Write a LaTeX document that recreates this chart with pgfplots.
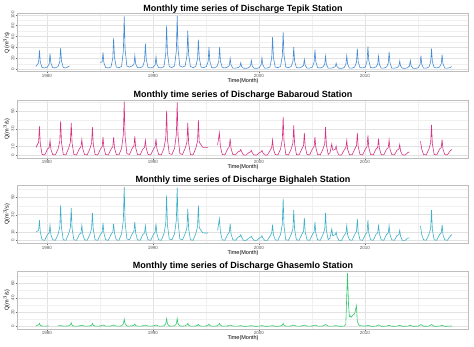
\documentclass[border=0pt]{standalone}
\usepackage{fontspec}
\setmainfont{Liberation Sans}
\usepackage{pgfplots}
\pgfplotsset{compat=1.18}
\definecolor{cTepik}{RGB}{70,140,210}
\definecolor{cBaba}{RGB}{214,51,132}
\definecolor{cBigh}{RGB}{60,176,200}
\definecolor{cGhas}{RGB}{50,200,110}
\definecolor{gridmaj}{RGB}{226,226,226}
\definecolor{gridmin}{RGB}{240,240,240}
\definecolor{framec}{RGB}{190,190,190}
\pgfplotsset{
 panel/.style={
  scale only axis, width=451.4pt, height=58pt, anchor=south west,
  xmin=1977.2, xmax=2019.8,
  xtick={1980,1990,2000,2010}, minor xtick={1985,1995,2005,2015},
  grid=both, major grid style={gridmaj, line width=0.5pt}, minor grid style={gridmin, line width=0.35pt},
  axis line style={framec, line width=0.5pt},
  tick pos=left, tick align=outside, major tick length=1.8pt, minor tick length=0pt,
  tick style={black!60, line width=0.4pt},
  /pgf/number format/assume math mode=true,
  /pgf/number format/1000 sep={},
  ticklabel style={font=\fontsize{4.5}{5}\selectfont, text=black!65},
  xticklabel style={inner sep=0.8pt},
  yticklabel style={rotate=90, anchor=south, inner sep=1pt},
  xlabel={Time(Month)}, ylabel={Q(m$^{3}$/s)},
  label style={font=\fontsize{5.5}{6}\selectfont},
  xlabel style={at={(axis description cs:0.5,0)}, anchor=north, yshift=-6.6pt, inner sep=0pt},
  ylabel style={at={(axis description cs:-0.016,0.5)}, anchor=south, inner sep=0pt},
  every axis title/.style={at={(axis description cs:0.5,1)}, anchor=base, yshift=2.3pt, inner sep=0pt, font=\bfseries\fontsize{9}{10}\selectfont},
  unbounded coords=jump,
  every axis plot/.append style={line width=0.6pt, no markers},
 }
}
\begin{document}
\begin{tikzpicture}
\useasboundingbox (0,0) rectangle (474pt,347pt);
% ---------------- Tepik ----------------
\begin{axis}[panel, at={(17.3pt,275.3pt)}, ymin=-4.5, ymax=102,
  ytick={0,20,40,60,80,100}, minor ytick={10,30,50,70,90},
  title={Monthly time series of Discharge Tepik Station}]
\addplot[cTepik] coordinates {
(1978.96,5) (1979.21,12) (1979.29,34.5) (1979.37,13) (1979.54,3) (1979.79,2.5)
(1980.04,4) (1980.21,10) (1980.29,28.5) (1980.37,11) (1980.54,3) (1980.79,2.5)
(1981.04,5) (1981.21,14) (1981.29,39) (1981.37,15) (1981.54,3) (1981.79,2.5)
(1982.04,5) (1982.12,6)
(1983,nan)
(1985.04,12) (1985.21,14) (1985.29,31) (1985.37,12) (1985.54,3) (1985.79,2.5)
(1986.04,4) (1986.21,20) (1986.29,57) (1986.37,22) (1986.54,4) (1986.79,3)
(1987.04,5) (1987.21,34) (1987.29,97) (1987.37,37) (1987.54,6) (1987.79,4)
(1988.04,6) (1988.21,9) (1988.29,25) (1988.37,10) (1988.54,3) (1988.79,3)
(1989.04,5) (1989.21,16) (1989.29,47) (1989.37,18) (1989.54,3) (1989.79,2.5)
(1990.04,4) (1990.21,8) (1990.29,23) (1990.37,9) (1990.54,3) (1990.79,2.5)
(1991.04,5) (1991.21,28) (1991.29,80) (1991.37,30) (1991.54,5) (1991.79,3)
(1992.04,6) (1992.21,34) (1992.29,98) (1992.37,37) (1992.54,6) (1992.79,4)
(1993.04,6) (1993.21,25) (1993.29,71) (1993.37,27) (1993.54,5) (1993.79,3)
(1994.04,5) (1994.21,19) (1994.29,54.5) (1994.37,21) (1994.54,4) (1994.79,3)
(1995.04,5) (1995.21,14) (1995.29,40.5) (1995.37,15) (1995.54,3) (1995.79,2.5)
(1996.04,5) (1996.21,14) (1996.29,40.5) (1996.37,15) (1996.54,3) (1996.79,2.5)
(1997.04,4) (1997.21,7) (1997.29,20) (1997.37,8) (1997.54,2) (1997.79,2)
(1998.04,3) (1998.21,5) (1998.29,12) (1998.37,5) (1998.54,2) (1998.79,1.5)
(1999.04,3) (1999.21,6) (1999.29,16) (1999.37,6) (1999.54,2) (1999.79,1.5)
(2000.04,3) (2000.21,8) (2000.29,21) (2000.37,8) (2000.54,2) (2000.79,2)
(2001.04,4) (2001.21,21) (2001.29,59) (2001.37,22) (2001.54,4) (2001.79,3)
(2002.04,5) (2002.21,24) (2002.29,68) (2002.37,26) (2002.54,4) (2002.79,3)
(2003.04,5) (2003.21,14) (2003.29,40.5) (2003.37,15) (2003.54,3) (2003.79,2.5)
(2004.04,4) (2004.21,7) (2004.29,18) (2004.37,7) (2004.54,2) (2004.79,2)
(2005.04,4) (2005.21,13) (2005.29,36) (2005.37,14) (2005.54,3) (2005.79,2.5)
(2006.04,4) (2006.21,9) (2006.29,24) (2006.37,9) (2006.54,2) (2006.79,2)
(2007.04,3) (2007.21,5) (2007.29,11) (2007.37,5) (2007.54,2) (2007.79,1.5)
(2008.04,3) (2008.21,9) (2008.29,25) (2008.37,10) (2008.54,2) (2008.79,2)
(2009.04,4) (2009.21,13) (2009.29,38) (2009.37,14) (2009.54,3) (2009.79,2.5)
(2010.04,4) (2010.21,15) (2010.29,42) (2010.37,16) (2010.54,3) (2010.79,2.5)
(2011.04,4) (2011.21,9) (2011.29,24) (2011.37,9) (2011.54,2) (2011.79,2)
(2012.04,4) (2012.21,11) (2012.29,32) (2012.37,12) (2012.54,2) (2012.79,2)
(2013.04,3) (2013.21,6) (2013.29,15) (2013.37,6) (2013.54,2) (2013.79,1.5)
(2014.04,3) (2014.21,6) (2014.29,16) (2014.37,6) (2014.54,2) (2014.79,1.5)
(2015.04,3) (2015.21,9) (2015.29,25) (2015.37,9) (2015.54,2) (2015.79,2)
(2016.04,4) (2016.21,13) (2016.29,38) (2016.37,14) (2016.54,3) (2016.79,2.5)
(2017.04,4) (2017.21,10) (2017.29,27) (2017.37,10) (2017.54,2) (2017.79,2)
(2018.04,3) (2018.2,5)
};
\end{axis}
% ---------------- Babaroud ----------------
\begin{axis}[panel, at={(17.3pt,189pt)}, ymin=-3, ymax=63,
  ytick={0,10,30,50}, minor ytick={20,40,60},
  title={Monthly time series of Discharge Babaroud Station}]
\addplot[cBaba] coordinates {
(1978.96,9) (1979.21,15) (1979.29,33) (1979.37,13) (1979.54,1) (1979.79,0.5)
(1980.04,7) (1980.21,9) (1980.29,17) (1980.37,7) (1980.54,1) (1980.79,0.5)
(1981.04,7) (1981.21,16) (1981.29,39) (1981.37,15) (1981.54,1) (1981.79,0.5)
(1982.04,8) (1982.21,15) (1982.29,37) (1982.37,14) (1982.54,1) (1982.79,0.5)
(1983.04,7) (1983.21,10) (1983.29,18) (1983.37,8) (1983.54,1) (1983.79,0.5)
(1984.04,7) (1984.21,14) (1984.29,32) (1984.37,13) (1984.54,1) (1984.79,0.5)
(1985.04,7) (1985.21,10) (1985.29,20.6) (1985.37,9) (1985.54,1) (1985.79,0.5)
(1986.04,7) (1986.21,10) (1986.29,20.6) (1986.37,9) (1986.54,1) (1986.79,0.5)
(1987.04,8) (1987.21,24) (1987.29,61) (1987.37,22) (1987.54,2) (1987.79,1)
(1988.04,8) (1988.21,11) (1988.29,21.7) (1988.37,9) (1988.54,1) (1988.79,0.5)
(1989.04,7) (1989.21,9) (1989.29,17) (1989.37,8) (1989.54,1) (1989.79,0.5)
(1990.04,7) (1990.21,10) (1990.29,19) (1990.37,8) (1990.54,1) (1990.79,0.5)
(1991.04,8) (1991.21,20) (1991.29,50.6) (1991.37,18) (1991.54,2) (1991.79,1)
(1992.04,8) (1992.21,24) (1992.29,60.3) (1992.37,22) (1992.54,2) (1992.79,1)
(1993.04,8) (1993.21,15) (1993.29,37) (1993.37,14) (1993.54,1) (1993.79,0.5)
(1994.04,8) (1994.21,16) (1994.29,40) (1994.37,15) (1994.54,12) (1994.71,9) (1994.96,9) (1995.2,9)
(1995.6,nan)
(1996.1,12) (1996.18,18) (1996.27,25.5) (1996.37,10) (1996.54,1) (1996.79,0.5)
(1997.04,7) (1997.21,10) (1997.29,19) (1997.37,8) (1997.54,1) (1997.79,0.5)
(1998.04,4) (1998.21,5) (1998.29,6.7) (1998.37,4) (1998.54,0.5) (1998.79,0.3)
(1999.04,3) (1999.21,4) (1999.29,5.6) (1999.37,3) (1999.54,0.5) (1999.79,0.3)
(2000.04,3) (2000.21,4) (2000.29,5.6) (2000.37,3) (2000.54,0.5) (2000.79,0.3)
(2001.04,5) (2001.21,9) (2001.29,17.6) (2001.37,7) (2001.54,1) (2001.79,0.5)
(2002.04,7) (2002.21,18) (2002.29,43.8) (2002.37,16) (2002.54,1) (2002.79,0.5)
(2003.04,7) (2003.21,14) (2003.29,34.1) (2003.37,13) (2003.54,1) (2003.79,0.5)
(2004.04,7) (2004.21,11) (2004.29,25.5) (2004.37,10) (2004.54,1) (2004.79,0.5)
(2005.04,7) (2005.21,10) (2005.29,21) (2005.37,9) (2005.54,1) (2005.79,0.5)
(2006.04,7) (2006.21,13) (2006.29,32) (2006.37,12) (2006.54,1) (2006.71,3) (2006.88,13) (2006.96,6)
(2007.04,6) (2007.21,7) (2007.29,10.5) (2007.37,5) (2007.54,0.5) (2007.79,0.3)
(2008.04,6) (2008.21,9) (2008.29,16.8) (2008.37,7) (2008.54,1) (2008.79,0.5)
(2009.04,7) (2009.21,11) (2009.29,25.5) (2009.37,10) (2009.54,1) (2009.79,0.5)
(2010.04,7) (2010.21,10) (2010.29,22.8) (2010.37,9) (2010.54,1) (2010.79,0.5)
(2011.04,7) (2011.21,9) (2011.29,19) (2011.37,8) (2011.54,1) (2011.79,0.5)
(2012.04,7) (2012.21,9) (2012.29,17.6) (2012.37,7) (2012.54,1) (2012.79,0.5)
(2013.04,6) (2013.21,7) (2013.29,12.4) (2013.37,5) (2013.54,0.5) (2013.79,0.3)
(2014.04,3) (2014.2,4)
(2014.7,nan)
(2015.25,16) (2015.37,7) (2015.54,1) (2015.79,0.5)
(2016.04,7) (2016.21,14) (2016.29,34.8) (2016.37,13) (2016.54,1) (2016.79,0.5)
(2017.04,7) (2017.21,9) (2017.29,18) (2017.37,7) (2017.54,1) (2017.79,0.5)
(2018.04,5) (2018.2,6.7)
};
\end{axis}
% ---------------- Bighaleh ----------------
\begin{axis}[panel, at={(17.3pt,103.7pt)}, ymin=-3, ymax=64,
  ytick={0,10,30,50}, minor ytick={20,40,60},
  title={Monthly time series of Discharge Bighaleh Station}]
\addplot[cBigh] coordinates {
(1978.96,10) (1979.21,12) (1979.29,23.6) (1979.37,10) (1979.54,1) (1979.79,0.5)
(1980.04,7) (1980.21,9) (1980.29,17.8) (1980.37,7) (1980.54,1) (1980.79,0.5)
(1981.04,7) (1981.21,16) (1981.29,41) (1981.37,15) (1981.54,1) (1981.79,0.5)
(1982.04,8) (1982.21,15) (1982.29,38) (1982.37,14) (1982.54,1) (1982.79,0.5)
(1983.04,7) (1983.21,9) (1983.29,17.8) (1983.37,8) (1983.54,1) (1983.79,0.5)
(1984.04,7) (1984.21,14) (1984.29,32.2) (1984.37,13) (1984.54,1) (1984.79,0.5)
(1985.04,7) (1985.21,10) (1985.29,20.5) (1985.37,9) (1985.54,1) (1985.79,0.5)
(1986.04,7) (1986.21,10) (1986.29,19.8) (1986.37,9) (1986.54,1) (1986.79,0.5)
(1987.04,8) (1987.21,24) (1987.29,62) (1987.37,22) (1987.54,2) (1987.79,1)
(1988.04,8) (1988.21,11) (1988.29,21.7) (1988.37,9) (1988.54,1) (1988.79,0.5)
(1989.04,7) (1989.21,9) (1989.29,17.4) (1989.37,8) (1989.54,1) (1989.79,0.5)
(1990.04,7) (1990.21,10) (1990.29,19.8) (1990.37,8) (1990.54,1) (1990.79,0.5)
(1991.04,8) (1991.21,20) (1991.29,52.3) (1991.37,18) (1991.54,2) (1991.79,1)
(1992.04,8) (1992.21,24) (1992.29,61.3) (1992.37,22) (1992.54,2) (1992.79,1)
(1993.04,8) (1993.21,15) (1993.29,36.8) (1993.37,14) (1993.54,1) (1993.79,0.5)
(1994.04,8) (1994.21,16) (1994.29,40.7) (1994.37,15) (1994.54,12) (1994.71,9) (1994.96,8.9) (1995.2,8.9)
(1995.6,nan)
(1996.1,12) (1996.18,18) (1996.27,25.2) (1996.37,10) (1996.54,1) (1996.79,0.5)
(1997.04,7) (1997.21,10) (1997.29,19.8) (1997.37,8) (1997.54,1) (1997.79,0.5)
(1998.04,4) (1998.21,5) (1998.29,7) (1998.37,4) (1998.54,0.5) (1998.79,0.3)
(1999.04,3) (1999.21,4) (1999.29,5) (1999.37,3) (1999.54,0.5) (1999.79,0.3)
(2000.04,3) (2000.21,4) (2000.29,5.8) (2000.37,3) (2000.54,0.5) (2000.79,0.3)
(2001.04,5) (2001.21,9) (2001.29,18.6) (2001.37,7) (2001.54,1) (2001.79,0.5)
(2002.04,7) (2002.21,19) (2002.29,48.5) (2002.37,17) (2002.54,1) (2002.79,0.5)
(2003.04,7) (2003.21,14) (2003.29,35.3) (2003.37,13) (2003.54,1) (2003.79,0.5)
(2004.04,7) (2004.21,11) (2004.29,26.4) (2004.37,10) (2004.54,1) (2004.79,0.5)
(2005.04,7) (2005.21,10) (2005.29,21.3) (2005.37,9) (2005.54,1) (2005.79,0.5)
(2006.04,7) (2006.21,13) (2006.29,32.2) (2006.37,12) (2006.54,1) (2006.71,3) (2006.88,13.6) (2006.96,6)
(2007.04,6) (2007.21,7) (2007.29,9.7) (2007.37,5) (2007.54,0.5) (2007.79,0.3)
(2008.04,6) (2008.21,9) (2008.29,17.4) (2008.37,7) (2008.54,1) (2008.79,0.5)
(2009.04,7) (2009.21,11) (2009.29,25.2) (2009.37,10) (2009.54,1) (2009.79,0.5)
(2010.04,7) (2010.21,10) (2010.29,23.6) (2010.37,9) (2010.54,1) (2010.79,0.5)
(2011.04,7) (2011.21,9) (2011.29,18.6) (2011.37,8) (2011.54,1) (2011.79,0.5)
(2012.04,7) (2012.21,9) (2012.29,17.4) (2012.37,7) (2012.54,1) (2012.79,0.5)
(2013.04,6) (2013.21,7) (2013.29,12) (2013.37,5) (2013.54,0.5) (2013.79,0.3)
(2014.04,3) (2014.2,3.1)
(2014.7,nan)
(2015.25,16.7) (2015.37,7) (2015.54,1) (2015.79,0.5)
(2016.04,7) (2016.21,14) (2016.29,35.3) (2016.37,13) (2016.54,1) (2016.79,0.5)
(2017.04,7) (2017.21,9) (2017.29,18.6) (2017.37,7) (2017.54,1) (2017.79,0.5)
(2018.04,5) (2018.2,7)
};
\end{axis}
% ---------------- Ghasemlo ----------------
\begin{axis}[panel, at={(17.3pt,18pt)}, ymin=-3.2, ymax=77,
  ytick={0,20,40,60}, minor ytick={10,30,50,70},
  title={Monthly time series of Discharge Ghasemlo Station}]
\addplot[cGhas] coordinates {
(1978.96,1.4) (1979.21,2.5) (1979.29,4.6) (1979.37,2) (1979.54,0.8) (1979.79,0.7) (1980.04,1) (1980.2,1.2)
(1980.6,nan)
(1981.0,1) (1981.29,1.5) (1981.54,0.8) (1981.79,0.8)
(1982.04,1.2) (1982.21,2.5) (1982.29,5.5) (1982.37,2) (1982.54,0.8) (1982.79,0.7)
(1983.04,1) (1983.29,2) (1983.54,0.7) (1983.79,0.7)
(1984.04,1) (1984.21,2) (1984.29,4.6) (1984.37,2) (1984.54,0.8) (1984.79,0.7)
(1985.04,1) (1985.29,2.3) (1985.54,0.8) (1985.79,0.7)
(1986.04,1) (1986.29,2.3) (1986.54,0.8) (1986.79,0.7)
(1987.04,1.2) (1987.21,4) (1987.29,10.4) (1987.37,4) (1987.54,1) (1987.79,0.8)
(1988.04,1.2) (1988.21,2) (1988.29,3.7) (1988.37,1.5) (1988.54,0.8) (1988.79,0.7)
(1989.04,1) (1989.29,2.3) (1989.54,0.8) (1989.79,0.7)
(1990.04,1) (1990.29,2.3) (1990.54,0.8) (1990.79,0.7)
(1991.04,1.2) (1991.21,4) (1991.29,11.3) (1991.37,4) (1991.54,1) (1991.79,0.8)
(1992.04,1.2) (1992.21,4) (1992.29,11.3) (1992.37,4) (1992.54,1) (1992.79,0.8)
(1993.04,1.2) (1993.21,2.5) (1993.29,4.6) (1993.37,2) (1993.54,0.8) (1993.79,0.7)
(1994.04,1) (1994.21,1.8) (1994.29,3) (1994.37,1.5) (1994.54,0.8) (1994.79,0.7)
(1995.04,1) (1995.21,2) (1995.29,3.5) (1995.37,1.5) (1995.54,0.8) (1995.79,0.7)
(1996.04,1) (1996.21,2.5) (1996.29,4.6) (1996.37,2) (1996.54,0.8) (1996.79,0.7)
(1997.04,1) (1997.29,2.3) (1997.54,0.8) (1997.79,0.7)
(1998.04,0.8) (1998.29,1.5) (1998.54,0.6) (1998.79,0.6)
(1999.04,0.8) (1999.29,1.5) (1999.54,0.6) (1999.79,0.6)
(2000.04,0.8) (2000.29,1.5) (2000.54,0.6) (2000.79,0.6)
(2001.04,0.8) (2001.29,1.5) (2001.54,0.6) (2001.79,0.6)
(2002.04,1) (2002.21,2) (2002.29,4.6) (2002.37,2) (2002.54,0.8) (2002.79,0.7)
(2003.04,1) (2003.29,2.3) (2003.54,0.8) (2003.79,0.7)
(2004.04,1) (2004.29,2.3) (2004.54,0.8) (2004.79,0.7)
(2005.04,1) (2005.29,2.3) (2005.54,0.8) (2005.79,0.7)
(2006.04,1) (2006.29,3) (2006.54,0.8) (2006.79,0.7)
(2007.04,0.8) (2007.29,1.5) (2007.54,0.6) (2007.79,0.6)
(2008.04,0.8) (2008.2,3) (2008.36,73.8) (2008.46,30) (2008.54,14) (2008.62,15) (2008.71,13) (2008.87,16) (2009.04,18) (2009.2,29) (2009.29,7) (2009.46,1.5) (2009.79,1)
(2010.04,0.8) (2010.29,1.8) (2010.54,0.6) (2010.79,0.6)
(2011.04,0.8) (2011.29,2.5) (2011.54,0.6) (2011.79,0.6)
(2012.04,0.8) (2012.29,1.8) (2012.54,0.6) (2012.79,0.6)
(2013.04,0.8) (2013.29,1.8) (2013.54,0.6) (2013.79,0.6)
(2014.04,0.8) (2014.29,1.8) (2014.54,0.6) (2014.79,0.6)
(2015.04,0.8) (2015.29,3) (2015.54,0.6) (2015.79,0.6)
(2016.04,0.8) (2016.29,3) (2016.54,0.6) (2016.79,0.6)
(2017.04,0.8) (2017.29,1.8) (2017.54,0.6) (2017.79,0.6)
(2018.04,0.8) (2018.2,1)
};
\end{axis}
\end{tikzpicture}
\end{document}
